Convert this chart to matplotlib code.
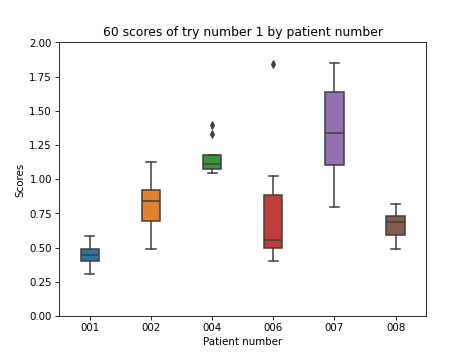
import numpy as np
import matplotlib
matplotlib.use('Agg')
import matplotlib.pyplot as plt

patients = ['001', '002', '004', '006', '007', '008']
# box stats
whisk_lo = [0.305, 0.49, 1.045, 0.405, 0.80, 0.49]
q1 = [0.403, 0.694, 1.075, 0.496, 1.106, 0.591]
med = [0.447, 0.84, 1.109, 0.555, 1.338, 0.689]
q3 = [0.49, 0.923, 1.177, 0.881, 1.636, 0.73]
whisk_hi = [0.588, 1.123, 1.177, 1.026, 1.846, 0.82]
fliers = [[], [], [1.397, 1.331], [1.841], [], []]
colors = ['#3274a1', '#e1812c', '#3a923a', '#c03d3e', '#9372b2', '#845b53']

stats = []
for i in range(len(patients)):
    stats.append({'whislo': whisk_lo[i], 'q1': q1[i], 'med': med[i],
                  'q3': q3[i], 'whishi': whisk_hi[i], 'fliers': fliers[i],
                  'label': patients[i]})

gray = '#3f3f3f'
fig, ax = plt.subplots(figsize=(6.4, 4.8), dpi=74)
bp = ax.bxp(stats, positions=range(len(patients)), widths=0.3,
            patch_artist=True,
            boxprops=dict(edgecolor=gray, linewidth=1.5),
            medianprops=dict(color=gray, linewidth=1.5),
            whiskerprops=dict(color=gray, linewidth=1.5),
            capprops=dict(color=gray, linewidth=1.5),
            flierprops=dict(marker='d', markerfacecolor=gray,
                            markeredgecolor=gray, markersize=5))
for patch, c in zip(bp['boxes'], colors):
    patch.set_facecolor(c)

ax.set_xlim(-0.5, len(patients) - 0.5)
ax.set_ylim(0, 2)
ax.set_yticks(np.arange(0, 2.01, 0.25))
ax.set_xticks(range(len(patients)))
ax.set_xticklabels(patients)
ax.set_xlabel('Patient number')
ax.set_ylabel('Scores')
ax.set_title('60 scores of try number 1 by patient number')

plt.savefig('out.png', dpi=74)
